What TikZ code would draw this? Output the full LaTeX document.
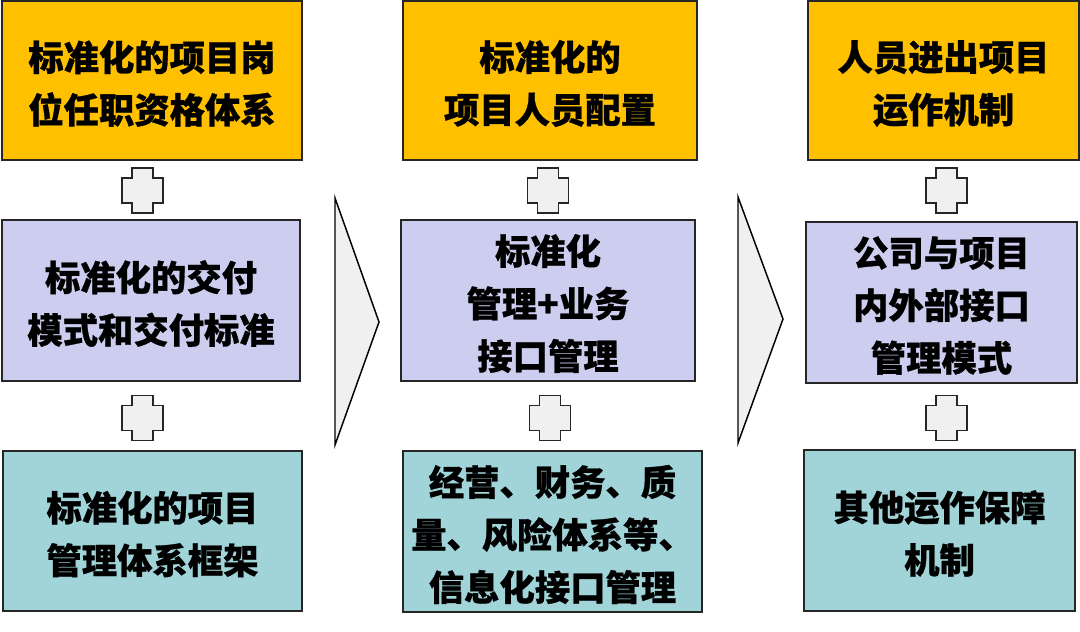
\documentclass[tikz,border=0pt]{standalone}
\usepackage{fontspec}
\newfontfamily\cjk{Noto Sans CJK SC}[BoldFeatures={FakeBold=0.8}]
\definecolor{boxorange}{HTML}{FFC000}
\definecolor{boxlav}{HTML}{CDCDF0}
\definecolor{boxteal}{HTML}{A0D4D8}
\definecolor{shapegray}{HTML}{F0F0F0}
\definecolor{edgedark}{HTML}{262626}
\tikzset{
  box/.style={draw=edgedark, line width=1.1pt, inner sep=0pt},
  txt/.style={align=center, inner sep=0pt, yshift=-2.25pt,
    font=\cjk\bfseries\fontsize{26.5}{39.4}\selectfont},
  plusstyle/.style={draw=edgedark, fill=shapegray, line width=1.1pt, line join=miter},
  chevstyle/.style={draw=black, fill=shapegray, line width=1.1pt, line join=miter},
  plussign/.pic={
    \draw[plusstyle] (-10.5,-22.5) -- (10.5,-22.5) -- (10.5,-12.5) -- (20.5,-12.5)
      -- (20.5,12.5) -- (10.5,12.5) -- (10.5,22.5) -- (-10.5,22.5) -- (-10.5,12.5)
      -- (-20.5,12.5) -- (-20.5,-12.5) -- (-10.5,-12.5) -- cycle;
  }
}
\begin{document}
\begin{tikzpicture}[x=0.75pt, y=-0.75pt]
\useasboundingbox (0,0) rectangle (1080,631);
% column 1
\node[box, fill=boxorange, minimum width=225pt, minimum height=119.25pt,
  label={[txt]center:{标准化的项目岗\\位任职资格体系}}] (a1) at (152,80.5) {};
\node[box, fill=boxlav, minimum width=223.5pt, minimum height=120.75pt,
  label={[txt]center:{标准化的交付\\模式和交付标准}}] (b1) at (151,300.5) {};
\node[box, fill=boxteal, minimum width=224.25pt, minimum height=120pt,
  label={[txt]center:{标准化的项目\\管理体系框架}}] (c1) at (152.5,531) {};
% column 2
\node[box, fill=boxorange, minimum width=220.5pt, minimum height=119.25pt,
  label={[txt]center:{标准化的\\项目人员配置}}] (a2) at (550,80.5) {};
\node[box, fill=boxlav, minimum width=220.5pt, minimum height=120.75pt,
  label={[txt]center:{标准化\\管理+业务\\接口管理}}] (b2) at (548,300.5) {};
\node[box, fill=boxteal, minimum width=224.25pt, minimum height=120.75pt,
  label={[txt]center:{经营、财务、质\\量、风险体系等、\\信息化接口管理}}] (c2) at (552.5,531.5) {};
% column 3
\node[box, fill=boxorange, minimum width=203.25pt, minimum height=119.25pt,
  label={[txt]center:{人员进出项目\\运作机制}}] (a3) at (943.5,80.5) {};
\node[box, fill=boxlav, minimum width=203.25pt, minimum height=120.75pt,
  label={[txt]center:{公司与项目\\内外部接口\\管理模式}}] (b3) at (941.5,302.5) {};
\node[box, fill=boxteal, minimum width=203.25pt, minimum height=120.75pt,
  label={[txt]center:{其他运作保障\\机制}}] (c3) at (939.5,530.5) {};
% plus signs
\pic at (142.5,190.5) {plussign};
\pic at (142.5,418) {plussign};
\pic at (548,190.5) {plussign};
\pic at (550,418) {plussign};
\pic at (946.5,190.5) {plussign};
\pic at (946.5,418) {plussign};
% chevrons
\draw[chevstyle] (335,198) -- (379,322) -- (335,445) -- cycle;
\draw[chevstyle] (738,197) -- (783,319) -- (738,443) -- cycle;
\end{tikzpicture}
\end{document}
